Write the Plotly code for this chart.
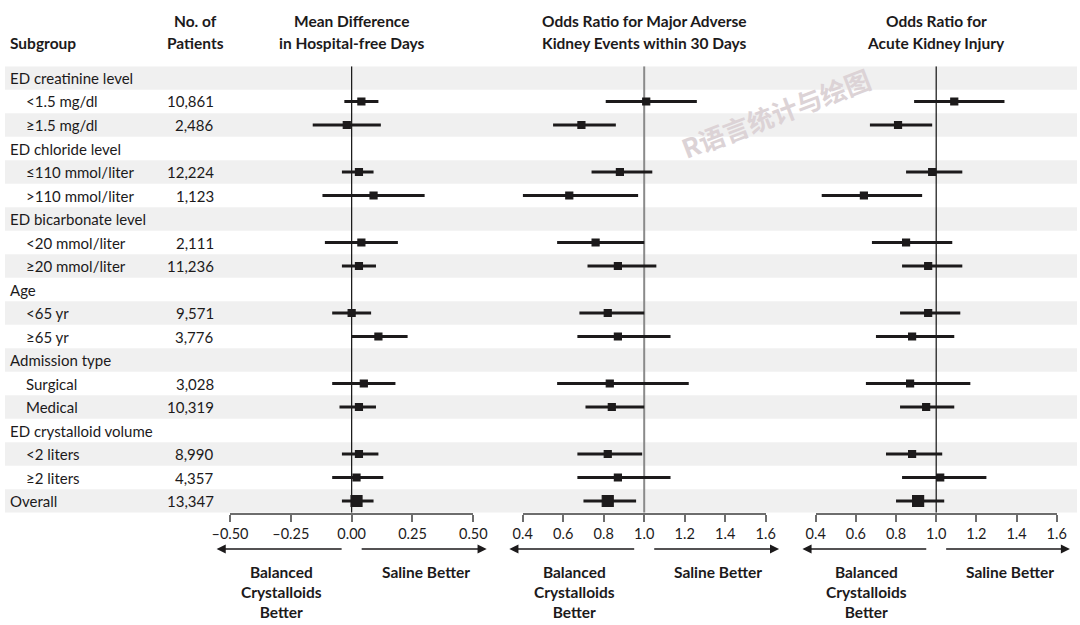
import plotly.graph_objects as go

# ---------------- data ----------------
row_labels = ["ED creatinine level", "<1.5 mg/dl", "≥1.5 mg/dl",
              "ED chloride level", "≤110 mmol/liter", ">110 mmol/liter",
              "ED bicarbonate level", "<20 mmol/liter", "≥20 mmol/liter",
              "Age", "<65 yr", "≥65 yr",
              "Admission type", "Surgical", "Medical",
              "ED crystalloid volume", "<2 liters", "≥2 liters",
              "Overall"]
row_is_group = [True, False, False, True, False, False, True, False, False,
                True, False, False, True, False, False, True, False, False, True]
n_patients = ["", "10,861", "2,486", "", "12,224", "1,123", "", "2,111", "11,236",
              "", "9,571", "3,776", "", "3,028", "10,319", "", "8,990", "4,357", "13,347"]

hfd_est = [None, 0.04, -0.02, None, 0.03, 0.09, None, 0.04, 0.03,
           None, 0.00, 0.11, None, 0.05, 0.03, None, 0.03, 0.02, 0.02]
hfd_lo = [None, -0.03, -0.16, None, -0.04, -0.12, None, -0.11, -0.04,
          None, -0.08, 0.00, None, -0.08, -0.05, None, -0.04, -0.08, -0.04]
hfd_hi = [None, 0.11, 0.12, None, 0.09, 0.30, None, 0.19, 0.10,
          None, 0.08, 0.23, None, 0.18, 0.10, None, 0.11, 0.13, 0.09]

make_est = [None, 1.01, 0.69, None, 0.88, 0.63, None, 0.76, 0.87,
            None, 0.82, 0.87, None, 0.83, 0.84, None, 0.82, 0.87, 0.82]
make_lo = [None, 0.81, 0.55, None, 0.74, 0.40, None, 0.57, 0.72,
           None, 0.68, 0.67, None, 0.57, 0.71, None, 0.67, 0.67, 0.70]
make_hi = [None, 1.26, 0.86, None, 1.04, 0.97, None, 1.00, 1.06,
           None, 1.00, 1.13, None, 1.22, 1.00, None, 0.99, 1.13, 0.96]

aki_est = [None, 1.09, 0.81, None, 0.98, 0.64, None, 0.85, 0.96,
           None, 0.96, 0.88, None, 0.87, 0.95, None, 0.88, 1.02, 0.91]
aki_lo = [None, 0.89, 0.67, None, 0.85, 0.43, None, 0.68, 0.83,
          None, 0.82, 0.70, None, 0.65, 0.82, None, 0.75, 0.83, 0.80]
aki_hi = [None, 1.34, 0.98, None, 1.13, 0.93, None, 1.08, 1.13,
          None, 1.12, 1.09, None, 1.17, 1.09, None, 1.03, 1.25, 1.04]

panel_titles = [["Mean Difference", "in Hospital-free Days"],
                ["Odds Ratio for Major Adverse", "Kidney Events within 30 Days"],
                ["Odds Ratio for", "Acute Kidney Injury"]]
hfd_ticks = [-0.50, -0.25, 0.00, 0.25, 0.50]
hfd_ticktext = ["–0.50", "–0.25", "0.00", "0.25", "0.50"]
or_ticks = [0.4, 0.6, 0.8, 1.0, 1.2, 1.4, 1.6]
or_ticktext = ["0.4", "0.6", "0.8", "1.0", "1.2", "1.4", "1.6"]

# ---------------- layout helpers ----------------
W, H = 1080, 625
FONT = "Lato"
INK = "#1c1a1b"

def px(x):
    return x / W

def py(y):
    return 1 - y / H

rows = list(range(len(row_labels)))

fig = go.Figure()

panels = [
    ("x", hfd_est, hfd_lo, hfd_hi, [-0.5, 0.5], 0.0, hfd_ticks, hfd_ticktext, (230, 473.3), "#111111", 1.2),
    ("x2", make_est, make_lo, make_hi, [0.4, 1.6], 1.0, or_ticks, or_ticktext, (522.7, 765.7), "#8a8a8a", 2.0),
    ("x3", aki_est, aki_lo, aki_hi, [0.4, 1.6], 1.0, or_ticks, or_ticktext, (815.7, 1056.7), "#111111", 1.2),
]

shapes = []
annotations = []

# stripes
for i in rows:
    if i % 2 == 0:
        shapes.append(dict(type="rect", xref="paper", yref="y", x0=px(5), x1=px(1077),
                           y0=i - 0.5, y1=i + 0.5, fillcolor="#f0f0f0",
                           line=dict(width=0), layer="below"))

layout_axes = {}
for k, (xa, est, lo, hi, rng, ref, tv, tt, dom, refcol, refw) in enumerate(panels):
    idx = [i for i in rows if est[i] is not None]
    xs = [est[i] for i in idx]
    ys = [i for i in idx]
    plus = [hi[i] - est[i] for i in idx]
    minus = [est[i] - lo[i] for i in idx]
    sizes = [11 if row_labels[i] == "Overall" else 7 for i in idx]
    fig.add_trace(go.Scatter(
        x=xs, y=ys, xaxis=xa, yaxis="y", mode="markers",
        marker=dict(symbol="square", size=sizes, color=INK, opacity=1,
                    line=dict(color=INK, width=1.2)),
        error_x=dict(type="data", symmetric=False, array=plus, arrayminus=minus,
                     color=INK, thickness=3, width=0),
        showlegend=False, hoverinfo="skip"))
    name = "xaxis" if xa == "x" else "xaxis" + xa[1:]
    layout_axes[name] = dict(domain=[px(dom[0]), px(dom[1])], range=rng, anchor="y",
                             tickvals=tv, ticktext=tt, ticks="outside", ticklen=7,
                             tickwidth=1.5, tickcolor="#6d6d6d", showline=True,
                             linecolor="#6d6d6d", linewidth=1.5, showgrid=False,
                             zeroline=False, fixedrange=True, automargin=False,
                             tickfont=dict(family=FONT, size=14.5, color=INK))
    # reference line
    shapes.append(dict(type="line", xref=xa, yref="y", x0=ref, x1=ref, y0=-0.5, y1=18.5,
                       line=dict(color=refcol, width=refw), layer="below"))
    # titles
    cx = px((dom[0] + dom[1]) / 2)
    for j, line in enumerate(panel_titles[k]):
        annotations.append(dict(text=line, xref="paper", yref="paper", x=cx, y=py(21 + 22 * j),
                                xanchor="center", yanchor="middle", showarrow=False,
                                font=dict(family=FONT, size=15.5, color=INK, weight="bold")))
    # direction arrows
    span = rng[1] - rng[0]
    ay_paper = py(549)
    for sgn in (-1, 1):
        annotations.append(dict(x=ref + sgn * 0.555 * span, y=ay_paper, xref=xa, yref="paper",
                                ax=ref + sgn * 0.035 * span, ay=0, axref=xa, ayref="pixel",
                                showarrow=True, arrowhead=2, arrowsize=1.3, arrowwidth=1.4,
                                arrowcolor=INK, text=""))
    annotations.append(dict(text="Balanced<br>Crystalloids<br>Better", xref=xa, yref="paper",
                            x=ref - 0.288 * span, y=py(561), xanchor="center", yanchor="top",
                            showarrow=False, align="center",
                            font=dict(family=FONT, size=15.5, color=INK, weight="bold")))
    annotations.append(dict(text="Saline Better", xref=xa, yref="paper",
                            x=ref + 0.305 * span, y=py(561), xanchor="center", yanchor="top",
                            showarrow=False,
                            font=dict(family=FONT, size=15.5, color=INK, weight="bold")))

# left header
annotations.append(dict(text="Subgroup", xref="paper", yref="paper", x=px(8), y=py(43),
                        xanchor="left", yanchor="middle", showarrow=False,
                        font=dict(family=FONT, size=15.5, color=INK, weight="bold")))
for j, line in enumerate(["No. of", "Patients"]):
    annotations.append(dict(text=line, xref="paper", yref="paper", x=px(195), y=py(21 + 22 * j),
                            xanchor="center", yanchor="middle", showarrow=False,
                            font=dict(family=FONT, size=15.5, color=INK, weight="bold")))

# row labels and counts
for i in rows:
    annotations.append(dict(text=row_labels[i], xref="paper", yref="y",
                            x=px(8 if row_is_group[i] else 24), y=i,
                            xanchor="left", yanchor="middle", showarrow=False,
                            font=dict(family=FONT, size=15, color=INK)))
    if n_patients[i]:
        annotations.append(dict(text=n_patients[i], xref="paper", yref="y", x=px(216), y=i,
                                xanchor="right", yanchor="middle", showarrow=False,
                                font=dict(family=FONT, size=15, color=INK)))

# watermark
annotations.append(dict(text="R语言统计与绘图", xref="paper", yref="paper", x=px(776), y=py(113),
                        xanchor="center", yanchor="middle", showarrow=False, textangle=-21,
                        font=dict(family="Noto Sans CJK SC", size=26, color="#dcd3d6", weight="bold")))

fig.update_layout(
    template="none",
    width=W, height=H, margin=dict(l=0, r=0, t=0, b=0, pad=0, autoexpand=False),
    paper_bgcolor="white", plot_bgcolor="rgba(0,0,0,0)",
    yaxis=dict(domain=[py(512.75), py(66.25)], range=[18.5, -0.5], visible=False,
               fixedrange=True, automargin=False),
    shapes=shapes, annotations=annotations, showlegend=False,
    **layout_axes)

fig.write_html("out.html", config={"responsive": False, "displayModeBar": False},
               post_script="document.body.style.margin='0px';document.body.style.overflow='hidden';")
